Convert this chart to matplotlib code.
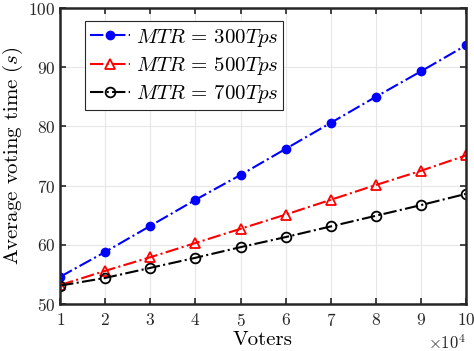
import numpy as np
import matplotlib
matplotlib.use('Agg')
from matplotlib import pyplot as plt
from matplotlib.ticker import ScalarFormatter

# data
voters = [10000, 20000, 30000, 40000, 50000, 60000, 70000, 80000, 90000, 100000]
mtr_300 = [54.6, 58.8, 63.2, 67.6, 71.8, 76.2, 80.6, 85.0, 89.3, 93.7]
mtr_500 = [53.2, 55.6, 57.9, 60.3, 62.7, 65.1, 67.6, 70.1, 72.5, 75.1]
mtr_700 = [53.1, 54.4, 56.1, 57.8, 59.6, 61.3, 63.1, 64.9, 66.7, 68.6]
labels = [r'$MTR\,=\,300Tps$', r'$MTR\,=\,500Tps$', r'$MTR\,=\,700Tps$']

# font setup (latex-like)
plt.rcParams.update({
    'font.family': 'serif',
    'font.serif': ['cmr10'],
    'mathtext.fontset': 'cm',
    'axes.formatter.use_mathtext': True,
    'axes.unicode_minus': False,
})

fig = plt.figure(figsize=(4.74, 3.51), dpi=100)
ax = fig.add_axes([0.127, 0.134, 0.856, 0.843])

ax.plot(voters, mtr_300, '-.', color='#0000ff', marker='o', markersize=6,
        markerfacecolor='#0000ff', linewidth=1.5, label=labels[0])
ax.plot(voters, mtr_500, '-.', color='#ff0000', marker='^', markersize=7,
        markerfacecolor='none', markeredgewidth=1.3, linewidth=1.5, label=labels[1])
ax.plot(voters, mtr_700, '-.', color='black', marker='o', markersize=7,
        markerfacecolor='none', markeredgewidth=1.3, linewidth=1.5, label=labels[2])

# limits and ticks
ax.set_xlim(10000, 100000)
ax.set_ylim(50, 100)
ax.set_xticks(voters)
ax.set_yticks([50, 60, 70, 80, 90, 100])
fmt = ScalarFormatter(useMathText=True)
fmt.set_powerlimits((4, 4))
ax.xaxis.set_major_formatter(fmt)
ax.xaxis.get_offset_text().set_fontsize(12)

ax.tick_params(direction='in', top=True, right=True, labelsize=12.5,
               length=4, width=1.2, colors='#262626')
ax.tick_params(axis='x', pad=6)
for s in ax.spines.values():
    s.set_linewidth(1.8)
    s.set_color('#262626')

ax.grid(True, color='#e6e6e6', linewidth=0.8)
ax.set_axisbelow(True)

# labels
ax.set_xlabel('Voters', fontsize=15, labelpad=1)
ax.set_ylabel(r'Average voting time $(s)$', fontsize=15, labelpad=2)

# legend
leg = ax.legend(loc='upper left', fontsize=15, fancybox=False, framealpha=1,
                edgecolor='#262626', borderpad=0.25, labelspacing=0.3,
                handlelength=1.9, handletextpad=0.3, bbox_to_anchor=(0.035, 0.99))
leg.get_frame().set_linewidth(0.8)

fig.savefig('out.png', dpi=100)
